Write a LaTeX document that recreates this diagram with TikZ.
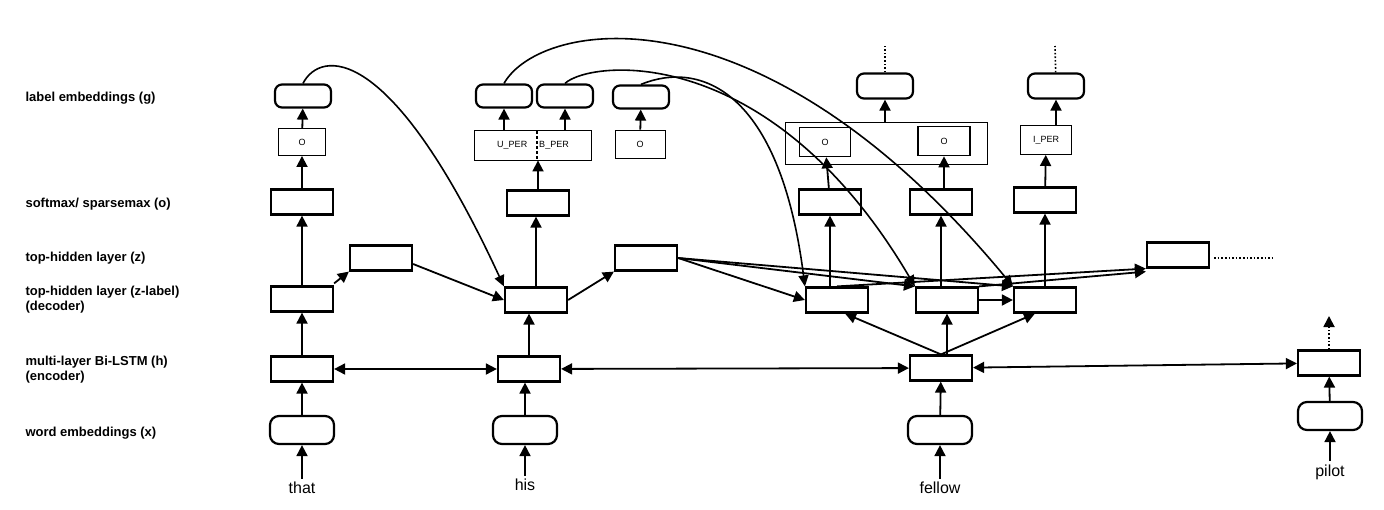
\documentclass[tikz,border=0pt]{standalone}
\usepackage{fontspec}
\setmainfont{Liberation Sans}
\usetikzlibrary{arrows.meta}
\begin{document}
\begin{tikzpicture}[x=1pt,y=-1pt,
 box/.style={draw,line width=2.2pt,minimum width=62pt,minimum height=25pt,inner sep=0pt},
 emb/.style={draw,line width=2.2pt,rounded corners=7pt,minimum width=56pt,minimum height=23pt,inner sep=0pt},
 wemb/.style={emb,minimum width=64pt,minimum height=28pt,rounded corners=9pt},
 lbl/.style={draw,line width=0.9pt,minimum height=27pt,inner sep=1pt,font=\small},
 arr/.style={-{Triangle[length=11pt,width=11pt]},line width=1.8pt},
 darr/.style={{Triangle[length=11pt,width=11pt]}-{Triangle[length=11pt,width=11pt]},line width=1.8pt},
 carr/.style={-{Triangle[length=11pt,width=10pt]},line width=1.6pt},
 side/.style={anchor=west,font=\bfseries\fontsize{13}{15}\selectfont,align=left},
 word/.style={font=\fontsize{16}{18}\selectfont}]
\useasboundingbox (0,0) rectangle (1384,509);
% side labels
\node[side] at (22,98) {label embeddings (g)};
\node[side] at (22,204) {softmax/ sparsemax (o)};
\node[side] at (22,258) {top-hidden layer (z)};
\node[side] at (22,300) {top-hidden layer (z-label)\\(decoder)};
\node[side] at (22,370) {multi-layer Bi-LSTM (h)\\(encoder)};
\node[side] at (22,433) {word embeddings (x)};
% column "that"
\node[word] (wthat) at (302,488) {that};
\node[wemb] (xthat) at (302,430) {};
\node[box] (hthat) at (302,369) {};
\node[box] (dthat) at (302,299) {};
\node[box] (zthat) at (381,258) {};
\node[box] (sthat) at (302,202) {};
\node[lbl,minimum width=47pt] (lthat) at (302,142) {O};
\node[emb] (gthat) at (303,96) {};
% column "his"
\node[word] (whis) at (525,485) {his};
\node[wemb] (xhis) at (525,430) {};
\node[box] (hhis) at (529,369) {};
\node[box] (dhis) at (536,300) {};
\node[box] (zhis) at (646,258) {};
\node[box] (shis) at (538,203) {};
\node[lbl,minimum width=117pt,minimum height=30pt] (lhis) at (533,145) {U\_PER\hspace{12pt}B\_PER};
\draw[line width=2.5pt,dash pattern=on 3pt off 2pt] (537,131) -- (537,159);
\node[emb] (ghisA) at (504,96) {};
\node[emb] (ghisB) at (565,96) {};
\node[lbl,minimum width=50pt,minimum height=28pt] (lhisO) at (640,144) {O};
\node[emb] (ghisO) at (641,97) {};
% column "fellow"
\node[word] (wfel) at (940,488) {fellow};
\node[wemb] (xfel) at (940,430) {};
\node[box] (hfel) at (941,368) {};
\node[box] (d1) at (837,300) {};
\node[box] (d2) at (947,300) {};
\node[box] (d3) at (1045,300) {};
\node[box] (s1) at (830,202) {};
\node[box] (s2) at (941,202) {};
\node[box] (s3) at (1045,200) {};
\node[draw,line width=0.9pt,minimum width=202pt,minimum height=42pt,inner sep=0] (grp) at (886,143) {};
\node[lbl,line width=1.6pt,minimum width=51pt,minimum height=29pt] (o1) at (825,142) {O};
\node[lbl,line width=1.6pt,minimum width=52pt,minimum height=29pt] (o2) at (944,141) {O};
\node[lbl,minimum width=51pt,minimum height=29pt] (o3) at (1046,140) {I\_PER};
\node[emb,minimum height=25pt] (g1) at (885,86) {};
\node[emb,minimum height=25pt] (g3) at (1056,86) {};
\coordinate (g1t) at (885,46);
\coordinate (g3t) at (1055,46);
\node[box] (zr) at (1178,255) {};
\coordinate (zrd) at (1273,258);
% column "pilot"
\node[word] (wpil) at (1330,472) {pilot};
\node[wemb] (xpil) at (1330,416) {};
\node[box] (hpil) at (1329,363) {};
\coordinate (hpilt) at (1329,316);
% vertical arrows
\draw[arr] (wthat.north) -- (xthat);
\draw[arr] (xthat) -- (hthat);
\draw[arr] (hthat) -- (dthat);
\draw[arr] (dthat) -- (sthat);
\draw[arr] (sthat) -- (lthat);
\draw[arr] (lthat) -- (gthat);
\draw[arr] (whis.north) -- (xhis);
\draw[arr] (xhis.north) -- (xhis.north|-hhis.south);
\draw[arr] (hhis.north) -- (hhis.north|-dhis.south);
\draw[arr] (dhis.north) -- (dhis.north|-shis.south);
\draw[arr] (shis.north) -- (shis.north|-lhis.south);
\draw[arr] (lhis.north-|ghisA) -- (ghisA);
\draw[arr] (lhis.north-|ghisB) -- (ghisB);
\draw[arr] (lhisO) -- (ghisO);
\draw[arr] (wfel.north) -- (xfel);
\draw[arr] (xfel) -- (hfel);
\draw[arr] (hfel.north) -- ([xshift=-24pt]d1.south east);
\draw[arr] (hfel.north) -- (hfel.north-|d2.south) -- (d2.south);
\draw[arr] (hfel.north) -- ([xshift=22pt]d3.south west);
\draw[arr] (d1.north-|s1) -- (s1);
\draw[arr] (d2.north-|s2) -- (s2);
\draw[arr] (d3) -- (s3);
\draw[arr] (s1) -- (o1);
\draw[arr] (s2.north-|o2) -- (o2);
\draw[arr] (s3) -- (o3);
\draw[arr] (grp.north-|g1) -- (g1);
\draw[arr] (o3.north-|g3) -- (g3);
\draw[line width=1.6pt,dotted] (g1) -- (g1t);
\draw[line width=1.6pt,dotted] (g3) -- (g3t);
\draw[arr] (wpil.north) -- (xpil);
\draw[arr] (xpil) -- (hpil);
\draw[line width=1.6pt,dotted] (hpil.north) -- (1329,328);
\draw[arr] (1329,328) -- (hpilt);
\draw[line width=1.6pt,dotted] (zr.east) ++(4,3) -- (zrd);
% horizontal encoder arrows
\draw[darr] (hthat) -- (hhis);
\draw[darr] (hhis) -- (hfel);
\draw[darr] (hfel) -- (hpil);
% decoder to z
\draw[arr] (dthat.north east) ++(0,-2) -- (zthat.south west);
\draw[arr] (zthat.east) ++(0,6) -- (dhis.west);
\draw[arr] (dhis.east) -- (zhis.south west);
\draw[arr] (zhis.east) -- (d1.west);
\draw[arr] (zhis.east) -- (d2.north west);
\draw[arr] (zhis.east) -- (d3.north west);
\draw[arr] (d2.east) -- (d3.west);
\draw[arr] (d1.north) -- (zr.south west);
\draw[arr] (d2.north east) -- ([yshift=-3pt]zr.south west);
% curves
\draw[carr] (gthat.north) .. controls (320,50) and (390,40) .. (dhis.north west);
\draw[carr] (ghisA.north) .. controls (540,20) and (760,-20) .. (d3.north west);
\draw[carr] (ghisB.north) .. controls (590,60) and (770,40) .. (d2.north west);
\draw[carr] (ghisO.north) .. controls (700,60) and (780,90) .. (d1.north west);
\end{tikzpicture}
\end{document}
